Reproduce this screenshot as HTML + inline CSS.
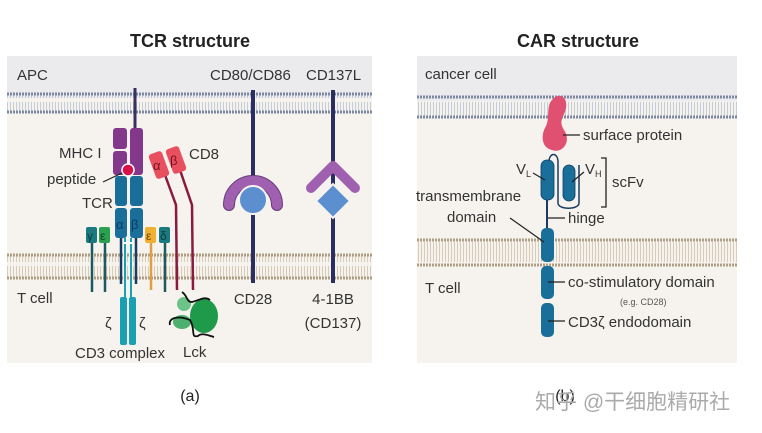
<!DOCTYPE html>
<html><head><meta charset="utf-8"><style>
html,body{margin:0;padding:0;background:#fff;width:762px;height:433px;overflow:hidden}
text{font-family:"Liberation Sans","Noto Sans CJK SC",sans-serif;fill:#333}
</style></head><body>
<svg width="762" height="433" viewBox="0 0 762 433" xmlns="http://www.w3.org/2000/svg">
<defs>
<pattern id="ma" width="3" height="20" patternUnits="userSpaceOnUse"><line x1="1.5" y1="2" x2="1.5" y2="18" stroke="#c4ccd8" stroke-width="1"/></pattern>
<pattern id="mt" width="3" height="24" patternUnits="userSpaceOnUse"><line x1="1.5" y1="2" x2="1.5" y2="22" stroke="#d8ccb8" stroke-width="1"/></pattern>
</defs>
<text x="190" y="47" font-size="18" font-weight="bold" text-anchor="middle" style="fill:#222">TCR structure</text>
<text x="578" y="47" font-size="18" font-weight="bold" text-anchor="middle" style="fill:#222">CAR structure</text>

<!-- left panel -->
<rect x="7" y="56" width="365" height="307" fill="#f6f3ee"/>
<rect x="7" y="56" width="365" height="42" fill="#ebebee"/>
<rect x="7" y="93" width="365" height="20" fill="url(#ma)"/>
<line x1="7" y1="94" x2="372" y2="94" stroke="#7c88a0" stroke-width="3" stroke-dasharray="2 1"/>
<line x1="7" y1="112" x2="372" y2="112" stroke="#7c88a0" stroke-width="3" stroke-dasharray="2 1"/>
<rect x="7" y="254" width="365" height="24" fill="url(#mt)"/>
<line x1="7" y1="255" x2="372" y2="255" stroke="#ad9e84" stroke-width="3" stroke-dasharray="2 1"/>
<line x1="7" y1="278" x2="372" y2="278" stroke="#ad9e84" stroke-width="3" stroke-dasharray="2 1"/>

<text x="17" y="80" font-size="15">APC</text>
<text x="17" y="303" font-size="15">T cell</text>
<text x="210" y="80" font-size="15">CD80/CD86</text>
<text x="306" y="80" font-size="15">CD137L</text>
<text x="59" y="158" font-size="15">MHC I</text>
<text x="47" y="184" font-size="15">peptide</text>
<text x="82" y="208" font-size="15">TCR</text>
<text x="189" y="159" font-size="15">CD8</text>
<text x="253" y="304" font-size="15" text-anchor="middle">CD28</text>
<text x="333" y="304" font-size="15" text-anchor="middle">4-1BB</text>
<text x="333" y="328" font-size="15" text-anchor="middle">(CD137)</text>
<text x="120" y="358" font-size="15" text-anchor="middle">CD3 complex</text>
<text x="183" y="357" font-size="15">Lck</text>
<text x="105" y="328" font-size="15">ζ</text>
<text x="139" y="328" font-size="15">ζ</text>

<!-- MHC -->
<line x1="135" y1="88" x2="135" y2="130" stroke="#3a3060" stroke-width="3"/>
<rect x="113" y="128" width="14" height="21" rx="3" fill="#84388c"/>
<rect x="113" y="151" width="14" height="24" rx="3" fill="#84388c"/>
<rect x="130" y="128" width="13" height="47" rx="3" fill="#84388c"/>
<circle cx="128" cy="170" r="6" fill="#d8104a" stroke="#fff" stroke-width="1.5"/>
<line x1="103" y1="182" x2="122" y2="173" stroke="#222" stroke-width="1.2"/>
<!-- CD3 lines -->
<line x1="125" y1="238" x2="125" y2="300" stroke="#1aa0b0" stroke-width="2"/>
<line x1="131" y1="238" x2="131" y2="300" stroke="#1aa0b0" stroke-width="2"/>
<line x1="124" y1="243" x2="132" y2="243" stroke="#fff" stroke-width="2"/>
<!-- TCR -->
<rect x="115" y="176" width="12" height="30" rx="3" fill="#1a6e9a"/>
<rect x="115" y="208" width="12" height="30" rx="3" fill="#1a6e9a"/>
<rect x="130" y="176" width="13" height="30" rx="3" fill="#1a6e9a"/>
<rect x="130" y="208" width="13" height="30" rx="3" fill="#1a6e9a"/>
<text x="116" y="229" font-size="13" style="fill:#0c3d60">α</text>
<text x="131" y="229" font-size="13" style="fill:#0c3d60">β</text>
<line x1="121" y1="238" x2="121" y2="284" stroke="#1a3c60" stroke-width="2.5"/>
<line x1="136" y1="238" x2="136" y2="284" stroke="#1a3c60" stroke-width="2.5"/>
<rect x="120" y="297" width="7" height="48" rx="2" fill="#1aa0b0"/>
<rect x="129" y="297" width="7" height="48" rx="2" fill="#1aa0b0"/>
<!-- CD3 subunits -->
<line x1="92" y1="238" x2="92" y2="292" stroke="#1a5a60" stroke-width="2.5"/>
<line x1="105" y1="238" x2="105" y2="292" stroke="#1a5a60" stroke-width="2.5"/>
<line x1="151" y1="238" x2="151" y2="290" stroke="#e0a040" stroke-width="2.5"/>
<line x1="165" y1="238" x2="165" y2="292" stroke="#1a5a60" stroke-width="2.5"/>
<rect x="86" y="227" width="11" height="16" rx="2" fill="#1a7a80"/>
<rect x="99" y="227" width="11" height="16" rx="2" fill="#2aa050"/>
<rect x="145" y="227" width="11" height="16" rx="2" fill="#f0b030"/>
<rect x="159" y="227" width="11" height="16" rx="2" fill="#1a7a80"/>
<text x="87" y="240" font-size="12" style="fill:#0c3d40">γ</text>
<text x="100" y="240" font-size="12" style="fill:#0c4020">ε</text>
<text x="146" y="240" font-size="12" style="fill:#704010">ε</text>
<text x="160" y="240" font-size="12" style="fill:#0c3d40">δ</text>
<!-- CD8 -->
<polyline points="165,175 176,205 177,290" fill="none" stroke="#8a1a40" stroke-width="2.5"/>
<polyline points="180,170 192,205 193,290" fill="none" stroke="#8a1a40" stroke-width="2.5"/>
<rect x="152" y="152" width="14" height="26" rx="3" fill="#e85060" transform="rotate(-20 159 165)"/>
<rect x="169" y="147" width="14" height="26" rx="3" fill="#e85060" transform="rotate(-20 176 160)"/>
<text x="153" y="170" font-size="13" style="fill:#7a1020">α</text>
<text x="170" y="165" font-size="13" style="fill:#7a1020">β</text>
<!-- Lck -->
<ellipse cx="204" cy="316" rx="14" ry="17" fill="#1e9a4a"/>
<circle cx="184" cy="304" r="7" fill="#6cc488"/>
<ellipse cx="182" cy="322" rx="9" ry="7" fill="#4cb070"/>
<path d="M182 292 C188 296,186 302,192 302 C200 300,205 296,210 300 M170 325 C168 318,178 315,190 320 C196 330,190 338,198 336 C202 332,210 336,214 337" fill="none" stroke="#111" stroke-width="1.8"/>
<!-- CD28 -->
<line x1="253" y1="90" x2="253" y2="283" stroke="#2a2e60" stroke-width="4"/>
<path d="M229 205 A24 24 0 0 1 277 205" fill="none" stroke="#6a3a7a" stroke-width="12" stroke-linecap="round"/>
<path d="M229 205 A24 24 0 0 1 277 205" fill="none" stroke="#a060b0" stroke-width="10" stroke-linecap="round"/>
<circle cx="253" cy="200" r="14" fill="#5b8fd0" stroke="#f6f3ee" stroke-width="2"/>
<!-- 4-1BB -->
<line x1="333" y1="90" x2="333" y2="283" stroke="#2a2e60" stroke-width="4"/>
<polyline points="311,188 333,166 355,188" fill="none" stroke="#a060b0" stroke-width="10" stroke-linecap="round" stroke-linejoin="round"/>
<rect x="321" y="189" width="24" height="24" fill="#5b8fd0" stroke="#f6f3ee" stroke-width="2" transform="rotate(45 333 201)"/>
<text x="190" y="401" font-size="16" text-anchor="middle" style="fill:#222">(a)</text>

<!-- right panel -->
<rect x="417" y="56" width="320" height="307" fill="#f6f3ee"/>
<rect x="417" y="56" width="320" height="45" fill="#ebebee"/>
<rect x="417" y="97" width="320" height="20" fill="url(#ma)"/>
<line x1="417" y1="97" x2="737" y2="97" stroke="#7c88a0" stroke-width="3" stroke-dasharray="2 1"/>
<line x1="417" y1="117" x2="737" y2="117" stroke="#7c88a0" stroke-width="3" stroke-dasharray="2 1"/>
<rect x="417" y="240" width="320" height="25" fill="url(#mt)"/>
<line x1="417" y1="240" x2="737" y2="240" stroke="#ad9e84" stroke-width="3" stroke-dasharray="2 1"/>
<line x1="417" y1="265" x2="737" y2="265" stroke="#ad9e84" stroke-width="3" stroke-dasharray="2 1"/>
<text x="425" y="79" font-size="15">cancer cell</text>
<text x="425" y="293" font-size="15">T cell</text>
<path d="M552 100 C558 92,568 96,566 108 C564 118,558 120,564 130 C572 142,562 154,552 150 C542 148,540 136,546 126 C550 118,546 106,552 100Z" fill="#e05070"/>
<line x1="563" y1="135" x2="580" y2="135" stroke="#222" stroke-width="1.2"/>
<text x="583" y="140" font-size="15">surface protein</text>
<!-- scFv -->
<path d="M549 162 C549 152,558 152,558 162 L558 203 C558 210,579 210,579 203 L579 165" fill="none" stroke="#1a3c60" stroke-width="1.5"/>
<rect x="541" y="160" width="13" height="40" rx="6" fill="#1a6e9a" stroke="#0c3d60" stroke-width="0.8"/>
<rect x="563" y="165" width="12" height="36" rx="6" fill="#1a6e9a" stroke="#0c3d60" stroke-width="0.8"/>
<line x1="547" y1="200" x2="547" y2="230" stroke="#1a3c60" stroke-width="2"/>
<rect x="541" y="228" width="13" height="34" rx="5" fill="#1a6e9a"/>
<rect x="541" y="266" width="13" height="33" rx="5" fill="#1a6e9a"/>
<rect x="541" y="303" width="13" height="34" rx="5" fill="#1a6e9a"/>
<text x="516" y="174" font-size="15">V<tspan font-size="9" dy="3">L</tspan></text>
<line x1="533" y1="173" x2="545" y2="180" stroke="#222" stroke-width="1.2"/>
<text x="585" y="174" font-size="15">V<tspan font-size="9" dy="3">H</tspan></text>
<line x1="584" y1="172" x2="572" y2="182" stroke="#222" stroke-width="1.2"/>
<polyline points="601,158 606,158 606,207 601,207" fill="none" stroke="#222" stroke-width="1.3"/>
<text x="612" y="187" font-size="15">scFv</text>
<text x="416" y="201" font-size="15">transmembrane</text>
<text x="447" y="222" font-size="15">domain</text>
<line x1="510" y1="218" x2="544" y2="242" stroke="#222" stroke-width="1.2"/>
<line x1="548" y1="218" x2="565" y2="218" stroke="#222" stroke-width="1.2"/>
<text x="568" y="223" font-size="15">hinge</text>
<line x1="548" y1="282" x2="565" y2="282" stroke="#222" stroke-width="1.2"/>
<text x="568" y="287" font-size="15">co-stimulatory domain</text>
<text x="620" y="305" font-size="9" style="fill:#555">(e.g. CD28)</text>
<line x1="548" y1="321" x2="565" y2="321" stroke="#222" stroke-width="1.2"/>
<text x="568" y="327" font-size="15">CD3ζ endodomain</text>
<text x="565" y="401" font-size="16" text-anchor="middle" style="fill:#222">(b)</text>
<text x="535" y="409" font-size="21" style="fill:#aaa">知乎 @干细胞精研社</text>
</svg>
</body></html>
